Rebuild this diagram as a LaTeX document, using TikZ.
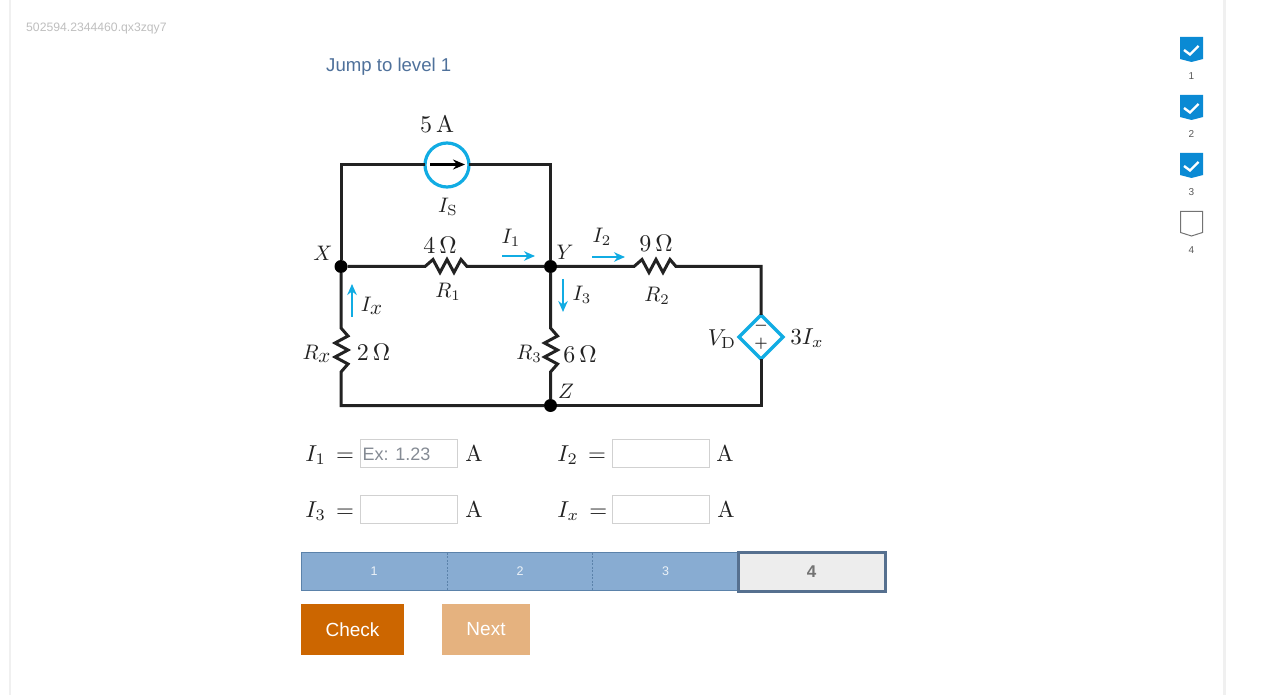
\documentclass[tikz,border=0pt]{standalone}
\usepackage{fontspec}
\setsansfont{Liberation Sans}
\usetikzlibrary{shapes.geometric,arrows.meta}
\definecolor{wirec}{HTML}{222222}
\definecolor{cyanc}{HTML}{11ACE3}
\definecolor{tabfill}{HTML}{88ACD2}
\definecolor{tabline}{HTML}{5B82AA}
\definecolor{activeline}{HTML}{56708F}
\definecolor{linkc}{HTML}{4F719B}
\definecolor{blueb}{HTML}{0A8AD4}
\definecolor{phc}{HTML}{858B94}
\newcommand{\fsz}[1]{\fontsize{#1}{#1}\selectfont}
\tikzset{
  wire/.style={draw=wirec,line width=3pt,line join=miter},
  junction/.style={circle,fill=black,minimum size=13pt,inner sep=0pt},
  sourcec/.style={circle,draw=cyanc,line width=3.2pt,fill=white,minimum size=44pt,inner sep=0pt,outer sep=0pt},
  depsrc/.style={diamond,draw=cyanc,line width=3.2pt,fill=white,minimum size=44pt,inner sep=0pt,outer sep=0pt},
  curarrow/.style={draw=cyanc,line width=2.8pt,-{Stealth[length=11pt,width=9.5pt]}},
  lab/.style={inner sep=0pt,text=wirec,scale=2.1},
  numlab/.style={inner sep=0pt,text=wirec,scale=2.4},
  field/.style={draw=black!18,line width=1pt,fill=white,minimum width=97pt,minimum height=28pt,inner sep=0pt},
  mathl/.style={anchor=base west,inner sep=0pt,text=wirec,scale=2.3},
  tabnum/.style={inner sep=0pt,text=white!85!tabfill,font=\sffamily\fsz{12.5}},
  btn/.style={minimum height=51pt,inner sep=0pt,text=white,font=\sffamily\fsz{19}},
  sidenum/.style={inner sep=0pt,text=black!65,font=\sffamily\fsz{10}},
  resH/.style={to path={-- ++(8,-7) -- ++(7,13) -- ++(7,-13) -- ++(7,13) -- ++(7,-13) -- (\tikztotarget)}},
  resV/.style={to path={-- ++(7,8) -- ++(-13,7) -- ++(13,7) -- ++(-13,7) -- ++(13,7) -- (\tikztotarget)}},
}
\begin{document}
\begin{tikzpicture}[x=1pt,y=-1pt]
\useasboundingbox (0,0) rectangle (1270,695);
\fill[white] (0,0) rectangle (1270,695);
% page panel edges
\fill[black!6] (9,0) rectangle (11,695);
\fill[black!6] (1223,0) rectangle (1226,695);
% header
\node[anchor=base west,inner sep=0pt,text=black!25,font=\sffamily\fsz{12.2}] (idtext) at (26,32) {502594.2344460.qx3zqy7};
\node[anchor=base west,inner sep=0pt,text=linkc,font=\sffamily\fsz{18.6}] (jump) at (326,71.5) {Jump to level 1};
% circuit nodes
\node[junction] (X) at (341,266.5) {};
\node[junction] (Y) at (550.5,266.5) {};
\node[junction] (Z) at (550.5,405.5) {};
\node[sourcec] (src) at (447,165) {};
\node[depsrc] (dep) at (761,337) {};
\coordinate (tl) at (341,165);
\coordinate (tr) at (550.5,165);
\coordinate (br) at (761,405.5);
\coordinate (rt) at (761,266.5);
\coordinate (bl) at (341,405.5);
\coordinate (r1a) at (425,266.5);
\coordinate (r1b) at (467,266.5);
\coordinate (r2a) at (634,266.5);
\coordinate (r2b) at (676,266.5);
\coordinate (rxa) at (341,328);
\coordinate (rxb) at (341,372);
\coordinate (r3a) at (550.5,328);
\coordinate (r3b) at (550.5,372);
% wires
\draw[wire] (X) -- (tl) -- (src);
\draw[wire] (src) -- (tr) -- (Y);
\draw[wire] (X) -- (r1a) to[resH] (r1b) -- (Y);
\draw[wire] (Y) -- (r2a) to[resH] (r2b) -- (rt) -- (dep);
\draw[wire] (X) -- (rxa) to[resV] (rxb) -- (bl) -- (Z);
\draw[wire] (Y) -- (r3a) to[resV] (r3b) -- (Z);
\draw[wire] (dep) -- (br) -- (Z);
% arrows
\coordinate (sa) at (430,164.5);
\coordinate (sb) at (465,164.5);
\draw[draw=black,line width=2.2pt,-{Stealth[length=12pt,width=10pt]}] (sa) -- (sb);
\coordinate (i1a) at (502,256); \coordinate (i1b) at (535,256);
\draw[curarrow] (i1a) -- (i1b);
\coordinate (i2a) at (592,257); \coordinate (i2b) at (625,257);
\draw[curarrow] (i2a) -- (i2b);
\coordinate (i3a) at (563,279); \coordinate (i3b) at (563,312);
\draw[curarrow] (i3a) -- (i3b);
\coordinate (ixa) at (352,317); \coordinate (ixb) at (352,284);
\draw[curarrow] (ixa) -- (ixb);
% circuit labels
\node[numlab] (l5a) at (437,124) {$5\,\mathrm{A}$};
\node[lab] (lis) at (448,207) {$I_{\mathrm{S}}$};
\node[numlab] (l4) at (440,245.5) {$4\,\Omega$};
\node[lab] (lr1) at (448,292) {$R_1$};
\node[lab] (li1) at (511,238) {$I_1$};
\node[lab] (lx) at (323,253) {$X$};
\node[lab] (ly) at (565,252) {$Y$};
\node[lab] (lix) at (372,306) {$I_{\textstyle x}$};
\node[lab] (lrx) at (317,354) {$R_{\textstyle x}$};
\node[numlab] (l2) at (373.5,352) {$2\,\Omega$};
\node[lab] (lr3) at (529,354) {$R_3$};
\node[numlab] (l6) at (580,354) {$6\,\Omega$};
\node[lab] (lz) at (566,391) {$Z$};
\node[lab] (li2) at (602,237) {$I_2$};
\node[numlab] (l9) at (656,243.5) {$9\,\Omega$};
\node[lab] (lr2) at (657,296) {$R_2$};
\node[lab] (li3) at (582,295) {$I_3$};
\node[mathl,anchor=center] (lvd) at (722,339) {$V_{\mathrm{D}}$};
\node[mathl,anchor=center] (lcs) at (807,338) {$3I_x$};
\node[inner sep=0pt,text=wirec,scale=1.5,font=\boldmath] (minus) at (761,326) {$-$};
\node[inner sep=0pt,text=wirec,scale=1.5,font=\boldmath] (plus) at (761,344) {$+$};
% answer row
\node[mathl] (e1) at (305,461) {$I_1\,=$};
\node[mathl] (e2) at (557,461) {$I_2\,=$};
\node[mathl] (e3) at (305,517) {$I_3\,=$};
\node[mathl] (e4) at (557,517) {$I_x\,=$};
\node[field] (f1) at (409,453) {};
\node[field] (f2) at (661,453) {};
\node[field] (f3) at (409,509) {};
\node[field] (f4) at (661,509) {};
\node[anchor=base west,inner sep=0pt,text=phc,font=\sffamily\fsz{18}] (ph) at (362.5,460) {Ex: 1.23};
\node[mathl] (a1) at (465,461) {A};
\node[mathl] (a2) at (716,461) {A};
\node[mathl] (a3) at (465,517) {A};
\node[mathl] (a4) at (717,517) {A};
% level bar
\draw[fill=tabfill,draw=tabline,line width=1pt] (301.5,552.5) rectangle (738,590.5);
\draw[draw=tabline,line width=0.8pt,dash pattern=on 2pt off 1.5pt] (447.5,552.5) -- (447.5,590.5);
\draw[draw=tabline,line width=0.8pt,dash pattern=on 2pt off 1.5pt] (592.5,552.5) -- (592.5,590.5);
\node[tabnum] (t1) at (374,571) {1};
\node[tabnum] (t2) at (520,571) {2};
\node[tabnum] (t3) at (665.5,571) {3};
\node[draw=activeline,fill=black!7,line width=3pt,minimum width=147pt,minimum height=39pt,inner sep=0pt,text=black!55,font=\sffamily\bfseries\fsz{17}] (t4) at (811.5,571.5) {4};
% buttons
\node[btn,fill={rgb,255:red,204;green,102;blue,0},minimum width=103pt] (check) at (352.5,629.5) {Check};
\node[btn,fill={rgb,255:red,229;green,178;blue,127},minimum width=88pt] (next) at (486,629.5) {Next};
% side markers
\foreach \ty/\n in {37/1,95/2,153/3}{
  \fill[blueb] (1180,\ty) -- (1203,\ty) -- (1203,\ty+22) -- (1191.5,\ty+25) -- (1180,\ty+22) -- cycle;
  \draw[white,line width=2.4pt] (1184,\ty+13) -- (1190,\ty+17.5) -- (1198.5,\ty+9);
  \node[sidenum] (sn\n) at (1191.5,\ty+39) {\n};
}
\draw[draw=black!55,line width=1pt,fill=white] (1180.5,211.5) -- (1202.5,211.5) -- (1202.5,232.5) -- (1191.5,236) -- (1180.5,232.5) -- cycle;
\node[sidenum] (sn4) at (1191.5,250.5) {4};
\end{tikzpicture}
\end{document}
